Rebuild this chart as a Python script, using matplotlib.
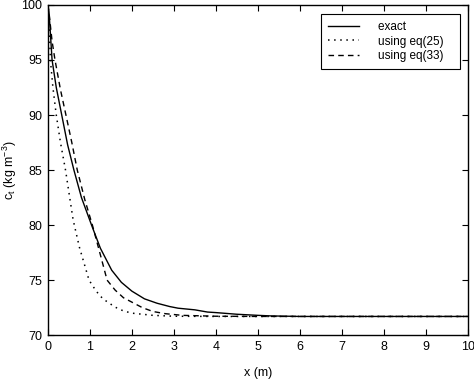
import matplotlib
matplotlib.use("Agg")
import matplotlib.pyplot as plt
import numpy as np

plt.rcParams["font.family"] = ["Liberation Sans", "DejaVu Sans"]

# ── data ──────────────────────────────────────────────────────────────────
x_exact = [0.0, 0.03, 0.1, 0.2, 0.33, 0.47, 0.62, 0.8, 1.04, 1.25, 1.52, 1.75, 2.0,
           2.3, 2.6, 2.9, 3.1, 3.5, 3.8, 4.0, 4.5, 5.0, 5.3, 6.0, 7.0, 8.0, 9.0, 10.0]
c_exact = [100.0, 99.2, 95.0, 92.5, 90.0, 87.3, 85.0, 82.5, 80.0, 77.9, 75.9, 74.8, 74.0,
           73.3, 72.9, 72.6, 72.45, 72.3, 72.1, 72.05, 71.9, 71.8, 71.75, 71.7, 71.7, 71.7, 71.7, 71.7]

x_eq25 = [0.0, 0.03, 0.06, 0.12, 0.2, 0.3, 0.42, 0.6, 0.75, 0.98, 1.15, 1.31, 1.6,
          1.8, 2.0, 2.5, 3.0, 4.0, 5.0, 6.0, 7.0, 8.0, 9.0, 10.0]
c_eq25 = [100.0, 98.5, 95.0, 92.5, 90.0, 87.5, 85.0, 80.5, 78.0, 75.0, 74.0, 73.3, 72.55,
          72.2, 72.0, 71.8, 71.72, 71.7, 71.7, 71.7, 71.7, 71.7, 71.7, 71.7]

x_eq33 = [0.0, 0.03, 0.1, 0.17, 0.3, 0.43, 0.57, 0.7, 0.88, 1.06, 1.25, 1.41, 1.6,
          1.8, 2.0, 2.25, 2.5, 2.8, 3.2, 4.0, 5.0, 6.0, 7.0, 8.0, 9.0, 10.0]
c_eq33 = [100.0, 99.2, 96.7, 95.0, 92.3, 90.0, 87.5, 85.0, 82.3, 80.0, 77.3, 75.0, 74.1,
          73.4, 73.0, 72.5, 72.15, 71.95, 71.8, 71.72, 71.7, 71.7, 71.7, 71.7, 71.7, 71.7]

labels = ["exact", "using eq(25)", "using eq(33)"]

# ── figure ────────────────────────────────────────────────────────────────
fig = plt.figure(figsize=(4.74, 3.8), dpi=100)
ax = fig.add_axes([0.101, 0.118, 0.886, 0.869])

ax.plot(x_exact, c_exact, color="black", lw=1.0, ls="-", label=labels[0] + "      ")
ax.plot(x_eq25, c_eq25, color="black", lw=1.1, ls=(0, (1, 3)), label=labels[1] + "   ")
ax.plot(x_eq33, c_eq33, color="black", lw=1.0, ls=(0, (4, 3)), label=labels[2] + "   ")

ax.set_xlim(0, 10)
ax.set_ylim(70, 100)
ax.set_xticks(np.arange(0, 11, 1))
ax.set_yticks(np.arange(70, 101, 5))
ax.tick_params(direction="in", top=True, right=True, length=4, width=0.8,
               labelsize=9, pad=4)
for s in ax.spines.values():
    s.set_linewidth(1.0)

ax.set_xlabel("x (m)", fontsize=9, labelpad=10)
ax.set_ylabel("c$_{\\mathregular{t}}$ (kg m$^{\\mathregular{-3}}$)", fontsize=9, labelpad=2)

leg = ax.legend(loc="upper right", fontsize=8.5, frameon=True, fancybox=False,
                edgecolor="black", framealpha=1, handlelength=2.6,
                handletextpad=1.6, labelspacing=0.2, borderpad=0.6,
                bbox_to_anchor=(0.996, 0.99))
leg.get_frame().set_linewidth(0.8)

fig.savefig("out.png", dpi=100, facecolor="white")
